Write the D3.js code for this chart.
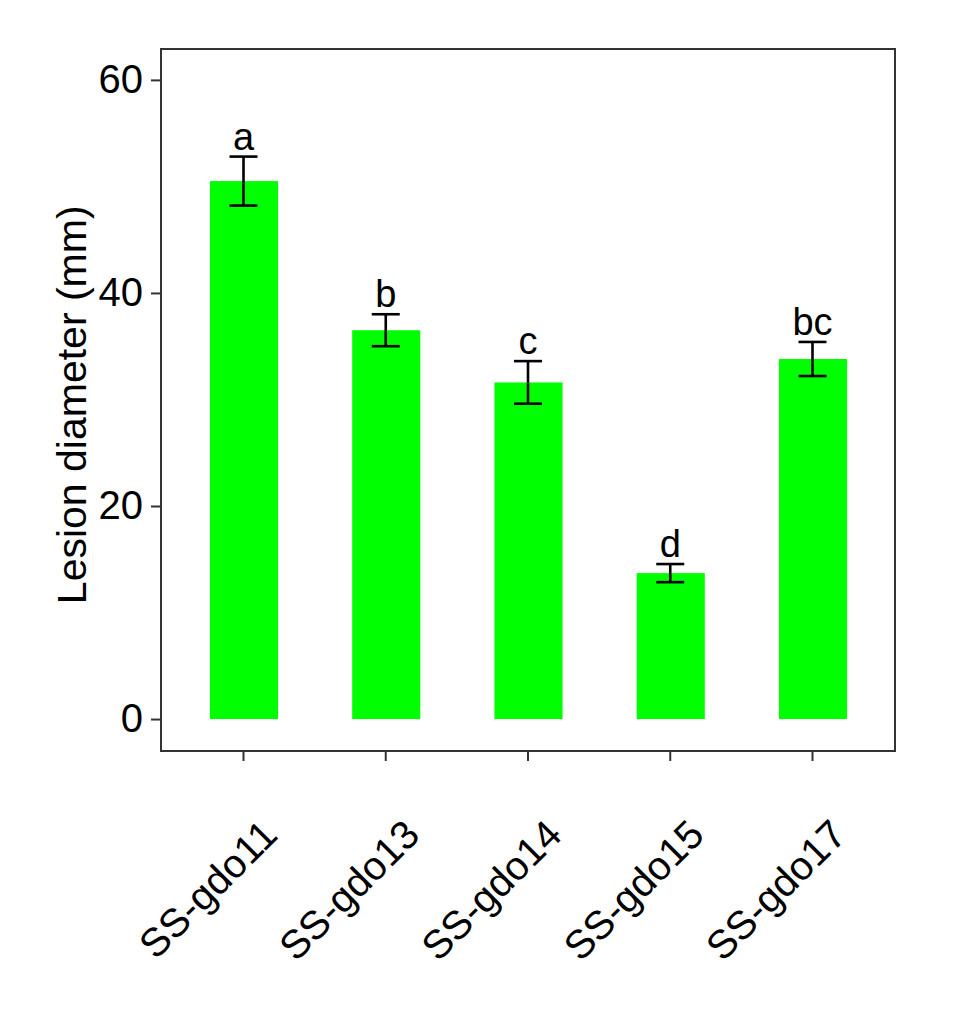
<!DOCTYPE html>
<html>
<head>
<meta charset="utf-8">
<script src="https://cdn.jsdelivr.net/npm/d3@7"></script>
<style>
  body { margin: 0; background: #ffffff; }
  svg text { font-family: "Liberation Sans", Arial, sans-serif; fill: #000; }
</style>
</head>
<body>
<svg id="chart"></svg>
<script>
// Data
var categories = ['SS-gdo11', 'SS-gdo13', 'SS-gdo14', 'SS-gdo15', 'SS-gdo17'];
var means = [50.5, 36.5, 31.6, 13.7, 33.8];
var errors = [2.3, 1.5, 2.0, 0.85, 1.6];
var letters = ['a', 'b', 'c', 'd', 'bc'];
var yTicks = [0, 20, 40, 60];

var width = 975, height = 1024;
// panel box
var margin = {top: 49, right: 80, bottom: 273, left: 161};
var pWidth = width - margin.left - margin.right,
    pHeight = height - margin.top - margin.bottom;

var svg = d3.select("#chart")
    .attr("width", width)
    .attr("height", height);

var g = svg.append("g")
    .attr("transform", "translate(" + margin.left + "," + margin.top + ")");

var x = d3.scaleBand()
    .domain(categories)
    .range([0, pWidth])
    .paddingInner(0.5)
    .paddingOuter(0.33);

var y = d3.scaleLinear()
    .domain([-3.0, 62.9])
    .range([pHeight, 0]);

// bars
g.selectAll("rect.bar")
    .data(categories)
    .enter().append("rect")
    .attr("class", "bar")
    .attr("x", function (d) {return x(d) + 2;})
    .attr("y", function (d, i) {return y(means[i]);})
    .attr("width", x.bandwidth() - 3)
    .attr("height", function (d, i) {return y(0) - y(means[i]);})
    .attr("fill", "#00ff00");

// error bars
var capW = 14;
var eb = g.append("g").attr("stroke", "#000").attr("stroke-width", 2.6);
categories.forEach(function (c, i)
{
    var cx = x(c) + x.bandwidth() / 2;
    var hi = y(means[i] + errors[i]), lo = y(means[i] - errors[i]);
    eb.append("line").attr("x1", cx).attr("x2", cx).attr("y1", hi).attr("y2", lo);
    eb.append("line").attr("x1", cx - capW).attr("x2", cx + capW).attr("y1", hi).attr("y2", hi);
    eb.append("line").attr("x1", cx - capW).attr("x2", cx + capW).attr("y1", lo).attr("y2", lo);
});

// significance letters
g.selectAll("text.sig")
    .data(categories)
    .enter().append("text")
    .attr("class", "sig")
    .attr("x", function (d) {return x(d) + x.bandwidth() / 2;})
    .attr("y", function (d, i) {return y(means[i] + errors[i]) - 7;})
    .attr("text-anchor", "middle")
    .style("font-size", "38px")
    .text(function (d, i) {return letters[i];});

// y axis
var yAxis = g.append("g")
    .call(d3.axisLeft(y).tickValues(yTicks).tickSize(10).tickSizeOuter(0).tickPadding(8));
yAxis.select(".domain").remove();
yAxis.selectAll("line").attr("stroke", "#333").attr("stroke-width", 2);
yAxis.selectAll("text").style("font-size", "40px").attr("fill", "#000");

// x axis
var xAxis = g.append("g")
    .attr("transform", "translate(0," + pHeight + ")")
    .call(d3.axisBottom(x).tickSize(10).tickSizeOuter(0).tickFormat(""));
xAxis.select(".domain").remove();
xAxis.selectAll("line").attr("stroke", "#333").attr("stroke-width", 2);

g.selectAll("text.xlab")
    .data(categories)
    .enter().append("text")
    .attr("class", "xlab")
    .attr("transform", function (d)
    {
        var cx = x(d) + x.bandwidth() / 2;
        return "translate(" + (cx + 36) + "," + (pHeight + 86) + ") rotate(-45)";
    })
    .attr("text-anchor", "end")
    .style("font-size", "40px")
    .text(function (d) {return d;});

// panel border
g.append("rect")
    .attr("x", 0).attr("y", 0)
    .attr("width", pWidth).attr("height", pHeight)
    .attr("fill", "none")
    .attr("stroke", "#333")
    .attr("stroke-width", 2);

// y title
svg.append("text")
    .attr("transform", "translate(" + 86 + "," + (margin.top + y(29.5)) + ") rotate(-90)")
    .attr("text-anchor", "middle")
    .style("font-size", "41px")
    .text("Lesion diameter (mm)");
</script>
</body>
</html>
